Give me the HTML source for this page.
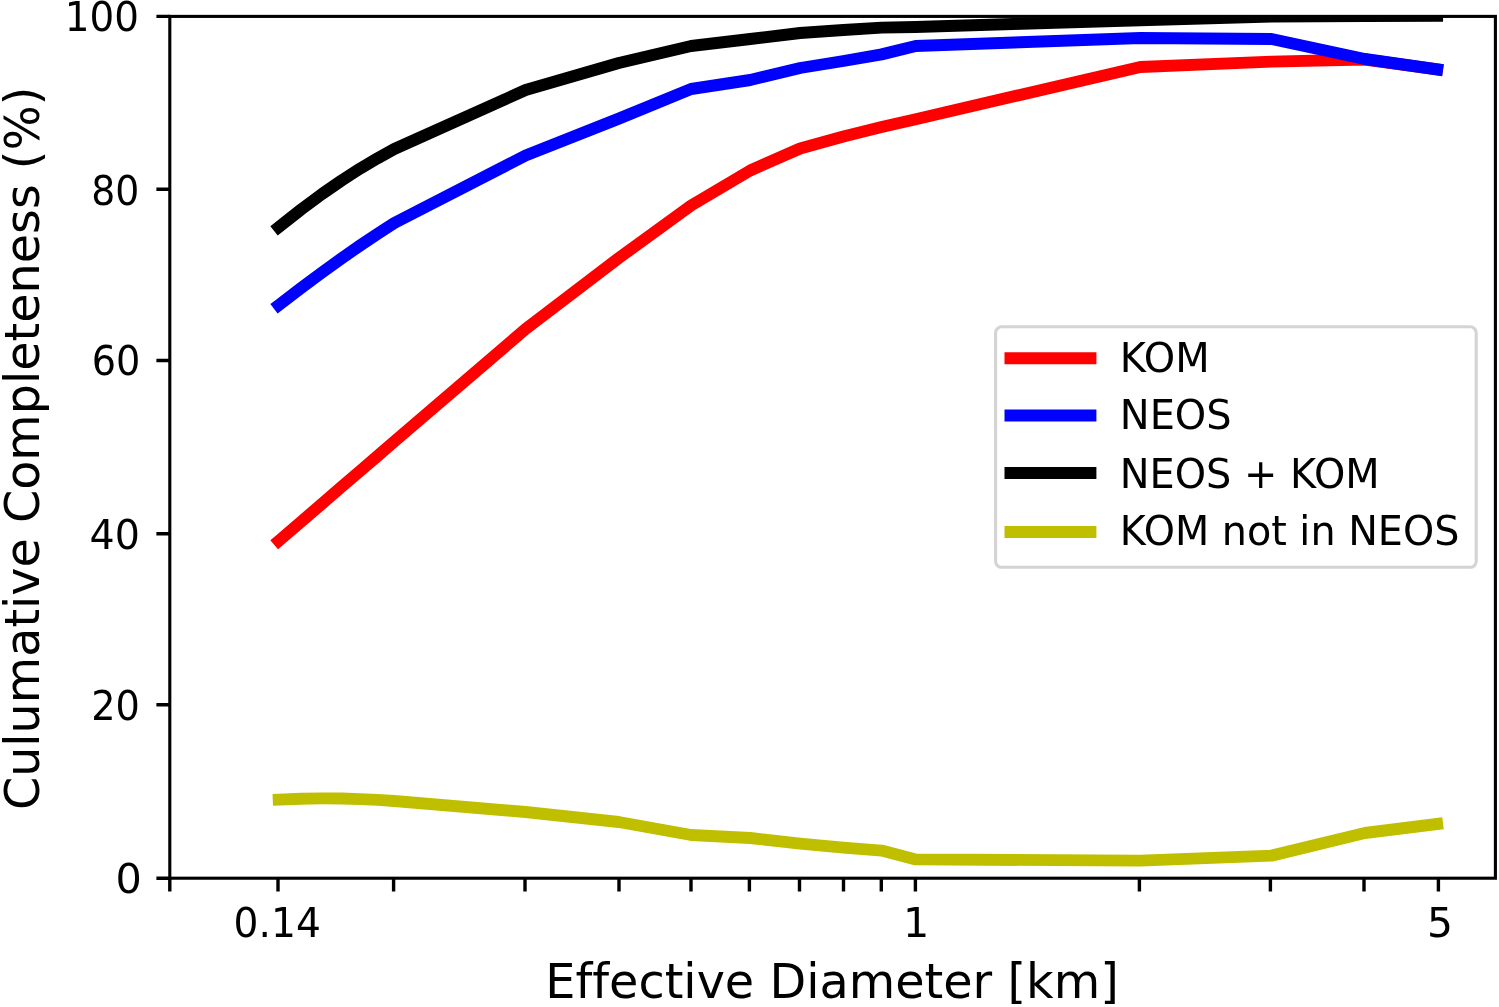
<!DOCTYPE html>
<html><head><meta charset="utf-8"><title>Cumulative Completeness</title>
<style>html,body{margin:0;padding:0;background:#fff;}svg{display:block;filter:blur(0.7px);}text{font-family:"DejaVu Sans","Liberation Sans",sans-serif;fill:#000;font-variant-ligatures:none;}</style></head><body>
<svg width="1499" height="1007" viewBox="0 0 1499 1007">
<rect width="1499" height="1007" fill="#fff"/>
<defs><clipPath id="ax"><rect x="169.8" y="16.4" width="1325.6" height="861.8"/></clipPath></defs>
<g clip-path="url(#ax)">
<polyline points="278.7,540.9 301.1,521.7 322.0,503.7 341.6,486.8 360.1,470.9 377.7,455.9 394.3,441.6 525.6,329.0 618.8,258.0 691.1,205.5 750.2,170.5 800.1,148.5 843.4,136.5 881.6,127.0 915.7,119.2 1140.3,67.0 1271.6,61.6 1364.8,59.5 1437.1,69.4" fill="none" stroke="#ff0000" stroke-width="11.9" stroke-linecap="square" stroke-linejoin="round"/>
<polyline points="278.7,305.2 301.1,288.0 322.0,272.4 341.6,258.3 360.1,245.5 377.7,233.8 394.3,223.0 525.6,155.5 618.8,118.6 691.1,89.0 750.2,80.0 800.1,68.0 843.4,61.0 881.6,54.4 915.7,46.0 1140.3,38.0 1271.6,39.0 1364.8,59.0 1437.1,69.4" fill="none" stroke="#0000ff" stroke-width="11.9" stroke-linecap="square" stroke-linejoin="round"/>
<polyline points="278.7,227.2 301.1,209.5 322.0,194.0 341.6,180.5 360.1,168.6 377.7,158.2 394.3,149.0 525.6,90.0 618.8,63.0 691.1,46.0 750.2,39.0 800.1,33.0 843.4,30.0 881.6,27.6 915.7,27.0 1140.3,20.2 1271.6,16.5 1364.8,16.0 1437.1,15.8" fill="none" stroke="#000000" stroke-width="11.9" stroke-linecap="square" stroke-linejoin="round"/>
<polyline points="278.7,799.6 301.1,798.7 322.0,798.4 341.6,798.5 360.1,799.1 377.7,799.9 394.3,801.0 525.6,812.0 618.8,822.0 691.1,835.0 750.2,838.0 800.1,843.6 843.4,847.6 881.6,850.6 915.7,859.4 1140.3,860.6 1271.6,855.6 1364.8,833.0 1437.1,824.0" fill="none" stroke="#bfbf00" stroke-width="11.9" stroke-linecap="square" stroke-linejoin="round"/>
</g>
<rect x="169.8" y="16.4" width="1325.6" height="861.8" fill="none" stroke="#000" stroke-width="3.1"/>
<path d="M169.8 878.2v13.4M278.0 878.2v13.4M393.6 878.2v13.4M525.0 878.2v13.4M619.0 878.2v13.4M691.0 878.2v13.4M749.4 878.2v13.4M799.5 878.2v13.4M843.5 878.2v13.4M881.3 878.2v13.4M915.4 878.2v13.4M1139.4 878.2v13.4M1270.4 878.2v13.4M1364.0 878.2v13.4M1438.4 878.2v13.4M169.8 16.4h-13.4M169.8 189.3h-13.4M169.8 360.5h-13.4M169.8 533.8h-13.4M169.8 704.7h-13.4M169.8 878.2h-13.4" stroke="#000" stroke-width="3.4" fill="none"/>
<text transform="translate(64.77 31.40) scale(0.9264 0.985)" font-size="42">100</text>
<text transform="translate(91.20 204.60) scale(0.9000 0.985)" font-size="42">80</text>
<text transform="translate(91.67 375.30) scale(0.9104 0.985)" font-size="42">60</text>
<text transform="translate(89.51 549.00) scale(0.9429 0.985)" font-size="42">40</text>
<text transform="translate(91.17 720.40) scale(0.9104 0.985)" font-size="42">20</text>
<text transform="translate(115.44 893.30) scale(0.9857 0.985)" font-size="42">0</text>
<text transform="translate(233.60 937.40) scale(0.9341 0.985)" font-size="42">0.14</text>
<text transform="translate(902.98 937.20) scale(0.9833 0.985)" font-size="42">1</text>
<text transform="translate(1426.89 937.40) scale(0.9700 0.985)" font-size="42">5</text>
<text transform="translate(545.29 998.30) scale(1.0415 1.035)" font-size="45.83">Effective Diameter [km]</text>
<text transform="translate(38.80 810.12) rotate(-90) scale(1.0399 1.035)" font-size="45.83">Culumative Completeness (%)</text>
<rect x="995.6" y="326.8" width="480.6" height="240.5" rx="6" ry="6" fill="#fff" fill-opacity="0.8" stroke="#d4d4d4" stroke-width="3.1"/>
<line x1="1004.5" y1="358.3" x2="1096.4" y2="358.3" stroke="#ff0000" stroke-width="12"/>
<text transform="translate(1119.77 371.60) scale(0.9581 1.000)" font-size="41.67">KOM</text>
<line x1="1004.5" y1="415.6" x2="1096.4" y2="415.6" stroke="#0000ff" stroke-width="12"/>
<text transform="translate(1119.77 429.30) scale(0.9582 1.000)" font-size="41.67">NEOS</text>
<line x1="1004.5" y1="473.0" x2="1096.4" y2="473.0" stroke="#000000" stroke-width="12"/>
<text transform="translate(1119.78 488.20) scale(0.9561 1.000)" font-size="41.67">NEOS + KOM</text>
<line x1="1004.5" y1="532.0" x2="1096.4" y2="532.0" stroke="#bfbf00" stroke-width="12"/>
<text transform="translate(1119.79 545.30) scale(0.9526 1.000)" font-size="41.67">KOM not in NEOS</text>
</svg></body></html>
